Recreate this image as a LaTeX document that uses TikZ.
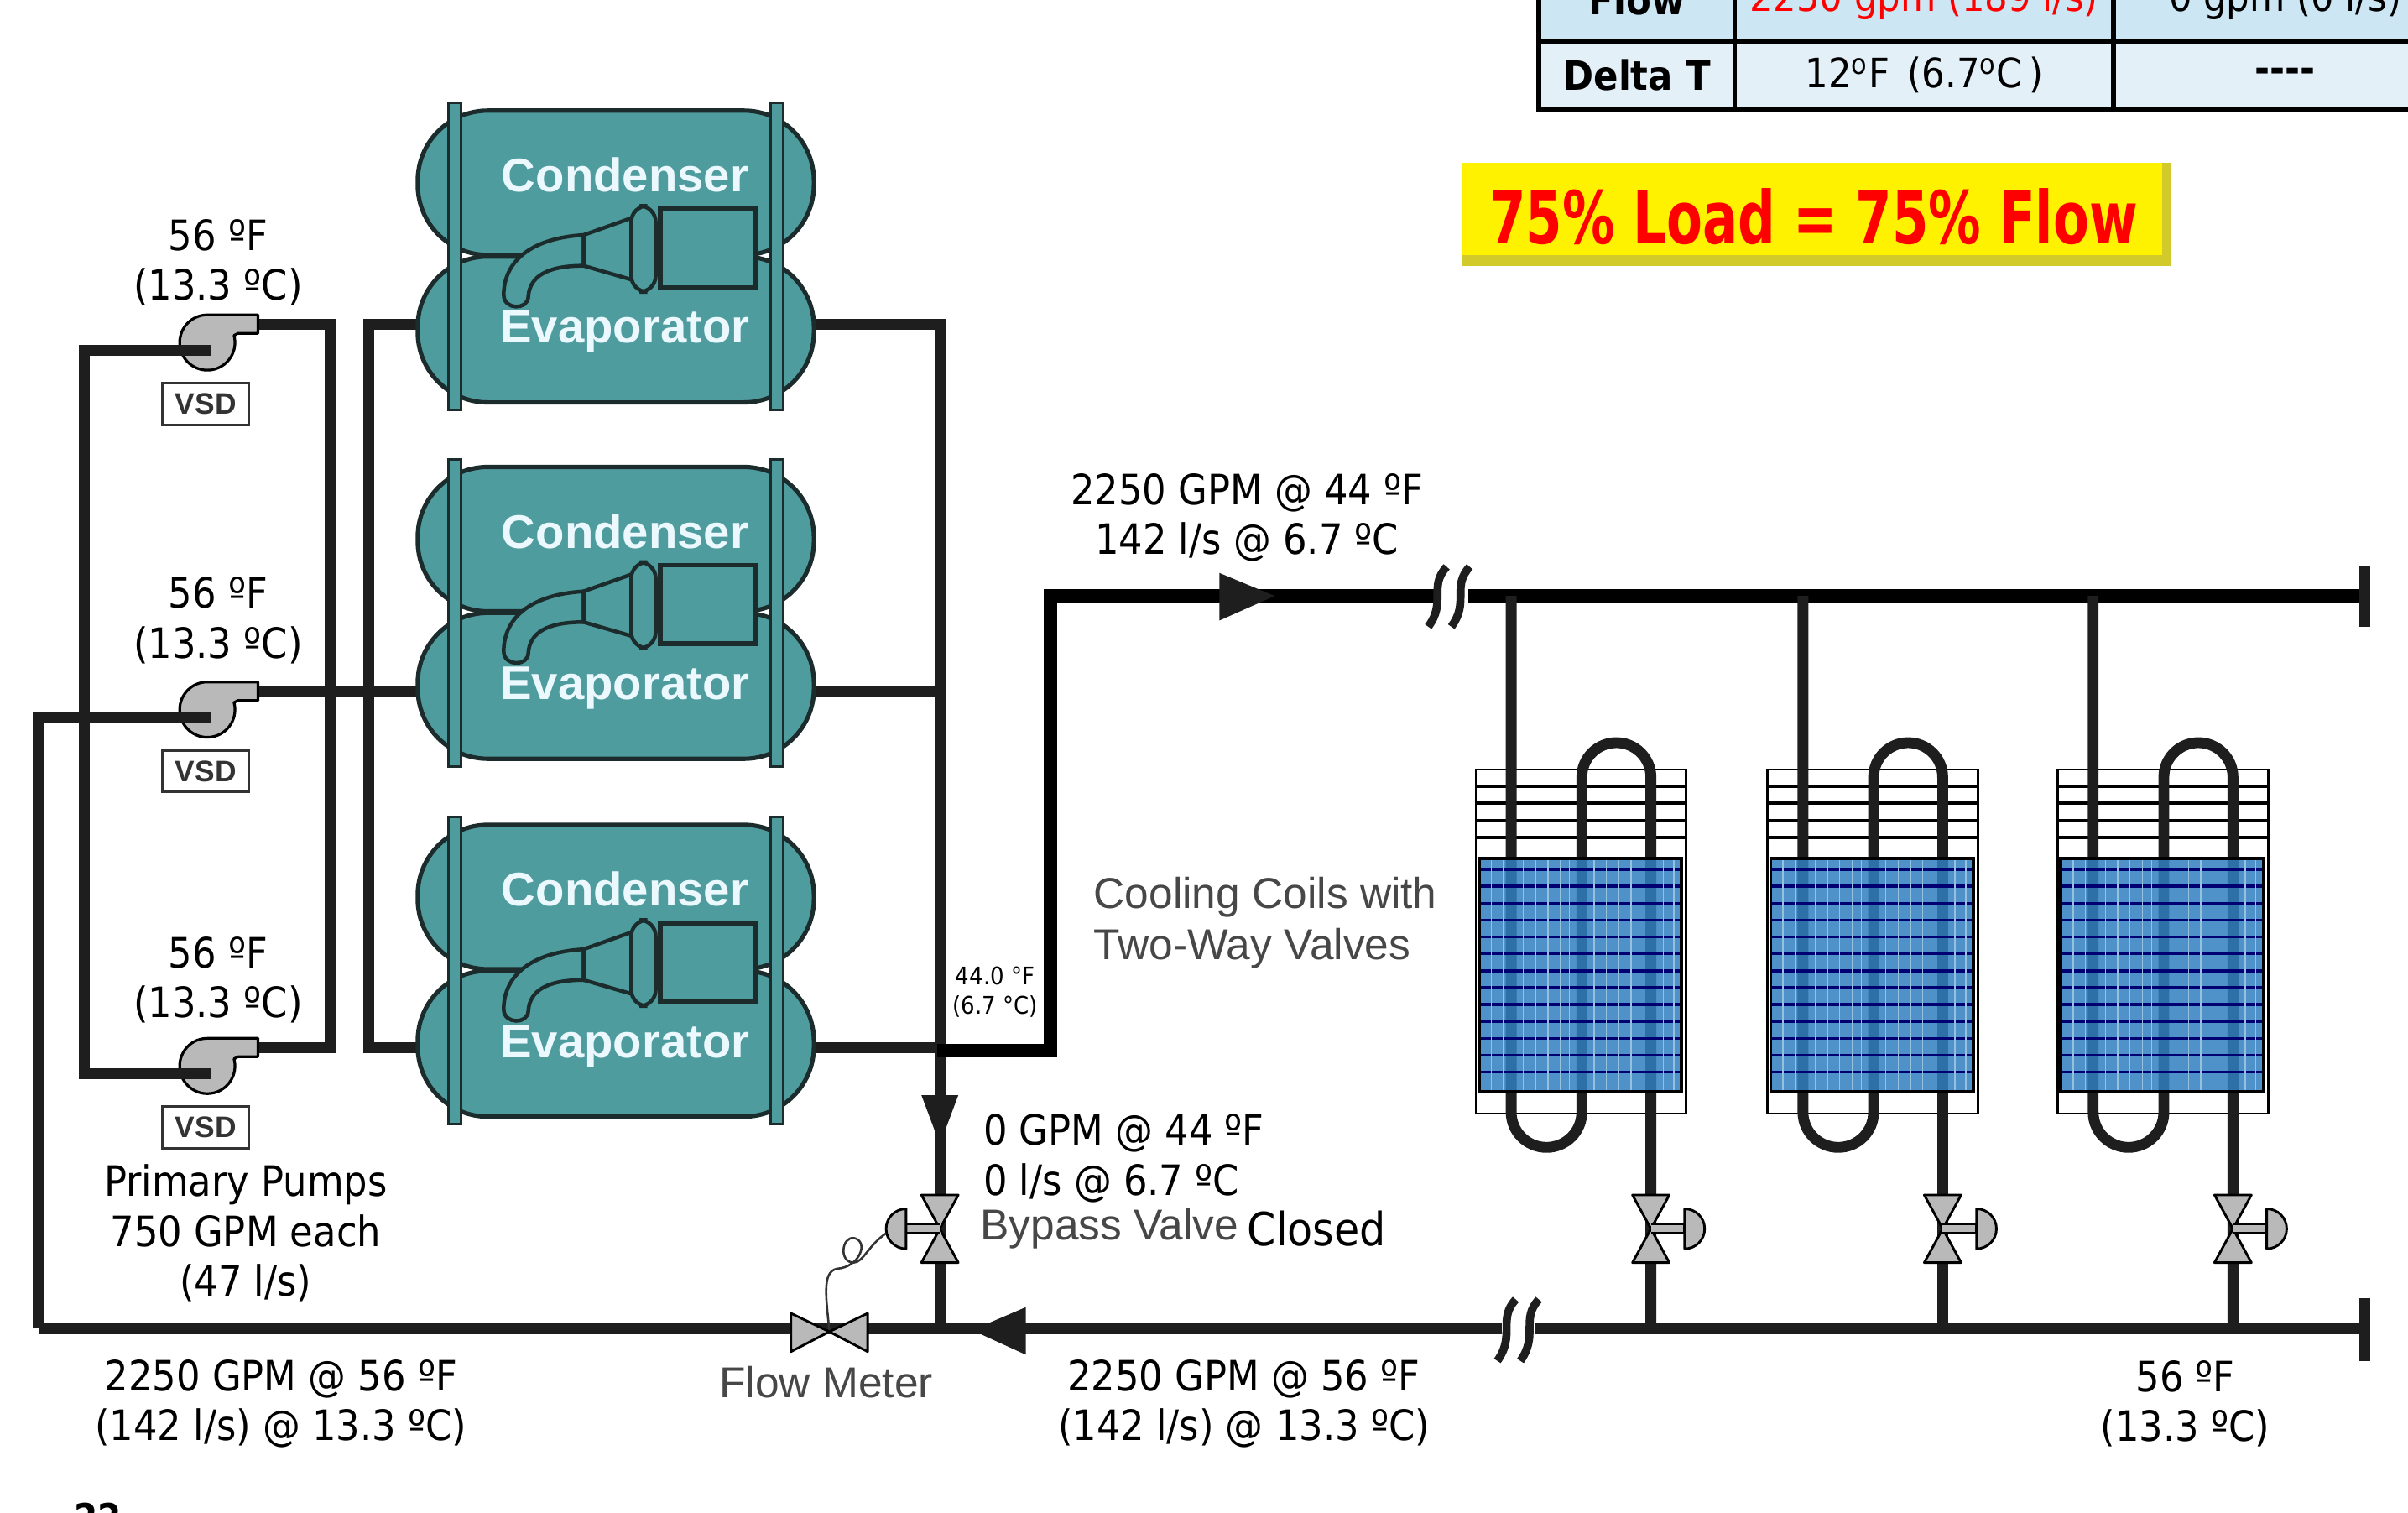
\documentclass[tikz,border=0pt]{standalone}
\usepackage{fontspec}
\setmainfont{DejaVu Sans}
\newfontfamily\cnd{DejaVu Sans Condensed}
\newfontfamily\ari{Liberation Sans}
\usetikzlibrary{calc}
\definecolor{tealc}{HTML}{4E9C9E}
\definecolor{dk}{HTML}{1C2C2C}
\definecolor{pipec}{HTML}{1E1E1E}
\definecolor{grayv}{HTML}{B9B9B9}
\definecolor{coilb}{HTML}{2F7FC0}
\definecolor{rowa}{HTML}{CDE6F3}
\definecolor{rowb}{HTML}{E4F0F8}
\begin{document}
\begin{tikzpicture}[x=0.02cm,y=-0.02cm,
  pipe/.style={line width=4pt,draw=pipec},
  lbl/.style={font=\cnd\fontsize{15.5}{18.5}\selectfont,align=center,inner sep=0pt},
  lbll/.style={font=\cnd\fontsize{15.5}{18.5}\selectfont,align=left,inner sep=0pt,anchor=west},
  glbl/.style={font=\ari\fontsize{16}{19}\selectfont,text=black!72,inner sep=0pt},
  shell/.style={fill=tealc,draw=dk,line width=1.6pt,rounded corners=26},
  strap/.style={fill=tealc,draw=dk,line width=1pt},
  wtxt/.style={font=\ari\bfseries\fontsize{17.5}{20}\selectfont,text=white!92!cyan,inner sep=0pt},
  valve/.style={fill=grayv,draw=black,line width=0.9pt,line join=round},
  arr/.style={fill=pipec,draw=none}]
\useasboundingbox (0,0) rectangle (1568,985);

% ---------------- table ----------------
\fill[rowa] (1002,-30) rectangle (1580,27);
\fill[rowb] (1002,27) rectangle (1580,71);
\draw[line width=1.8pt] (1002,-30) -- (1002,71) -- (1580,71);
\draw[line width=1.8pt] (1002,27) -- (1580,27);
\draw[line width=1.2pt] (1130,-30) -- (1130,71);
\draw[line width=1.8pt] (1376,-30) -- (1376,71);
\node[font=\cnd\bfseries\fontsize{15}{18}\selectfont] (tflow) at (1066,0) {Flow};
\node[font=\cnd\fontsize{15}{18}\selectfont,text=red] (tfa) at (1253,0) {2250 gpm (189 l/s)};
\node[font=\cnd\fontsize{15}{18}\selectfont] (tfb) at (1488,0) {0 gpm (0 l/s)};
\node[font=\cnd\bfseries\fontsize{15}{18}\selectfont] (tdt) at (1066,49) {Delta T};
\node[font=\cnd\fontsize{15}{18}\selectfont] (tda) at (1253,49) {12\textsuperscript{o}F \,(6.7\textsuperscript{o}C\,)};
\node[font=\cnd\bfseries\fontsize{15}{18}\selectfont] (tdb) at (1488,49) {----};

% ---------------- yellow banner ----------------
\fill[yellow!80!black] (952,106) rectangle (1414,173);
\fill[yellow] (952,106) rectangle (1408,166);
\node[font=\cnd\bfseries\fontsize{27}{32}\selectfont,text=red,inner sep=0pt,xscale=0.8] (banner) at (1181,141) {75\% Load = 75\% Flow};

% ---------------- pipes (left side) ----------------
\coordinate (retL) at (25,865);
\coordinate (retR) at (1540,865);
\draw[pipe] (retL) -- (25,467) -- (135,467);
\draw[pipe] (135,228) -- (55,228) -- (55,699) -- (135,699);
\draw[pipe] (160,211) -- (215,211) -- (215,682) -- (160,682);
\draw[pipe] (160,450) -- (272,450);
\draw[pipe] (272,211) -- (240,211) -- (240,682) -- (272,682);
\draw[pipe] (530,211) -- (612,211) -- (612,865);
\draw[pipe] (530,450) -- (612,450);
\draw[pipe] (530,682) -- (612,682);
\draw[pipe] (retL) -- (retR);
\draw[pipe] (1540,845) -- (1540,886);
\draw[line width=5pt,black] (610,684) -- (684,684) -- (684,388) -- (1540,388);
\draw[pipe] (1540,369) -- (1540,408);

% ---------------- pumps ----------------
\foreach \c/\n in {228/1,467/2,699/3}{
  \draw[valve,line width=1pt] (168,\c-23) -- (135,\c-23) arc[start angle=-90,end angle=-375,radius=18] -- (155,\c-11) -- (168,\c-11) -- cycle;
  \draw[pipe] (112,\c) -- (137,\c);
  \node[draw=black!80,line width=1pt,fill=white,minimum width=56*0.02cm,minimum height=27*0.02cm,inner sep=0pt,
        font=\ari\bfseries\fontsize{11}{12}\selectfont,text=black!80] (vsd\n) at (134,\c+35) {VSD};
}

% ---------------- chillers ----------------
\foreach \T/\n in {70/1,302/2,535/3}{
  \draw[shell] (272,\T+2) rectangle (530,\T+96);
  \draw[shell] (272,\T+97) rectangle (530,\T+192);
  \draw[strap] (292,\T-3) rectangle (300,\T+197);
  \draw[strap] (502,\T-3) rectangle (510,\T+197);
  \draw[fill=tealc,draw=dk,line width=1.4pt] (380,\T+83) .. controls (346,\T+85) and (328,\T+100) .. (328,\T+122)
     .. controls (328,\T+132) and (344,\T+132) .. (344,\T+123) .. controls (345,\T+110) and (356,\T+103) .. (380,\T+103) -- cycle;
  \draw[fill=tealc,draw=dk,line width=1.4pt] (380,\T+83) -- (411,\T+72) -- (411,\T+112) -- (380,\T+103) -- cycle;
  \draw[fill=tealc,draw=dk,line width=1.4pt,rounded corners=6] (411,\T+64) rectangle (427,\T+120);
  \draw[dk,line width=1.4pt] (427,\T+86) -- (430,\T+86) (427,\T+98) -- (430,\T+98);
  \draw[fill=tealc,draw=dk,line width=1.6pt] (430,\T+66) rectangle (492,\T+117);
  \node[wtxt] (cond\n) at (407,\T+44) {Condenser};
  \node[wtxt] (evap\n) at (407,\T+146) {Evaporator};
}

% ---------------- bypass, valves, arrows ----------------
\fill[arr] (600,713) -- (624,713) -- (612,745) -- cycle;
\draw[valve] (600,778) -- (624,778) -- (612,800) -- cycle;
\draw[valve] (600,822) -- (624,822) -- (612,800) -- cycle;
\draw[valve] (612,797) -- (590,797) -- (590,803) -- (612,803);
\draw[valve] (590,787) arc[start angle=-90,end angle=-270,radius=13] -- cycle;
\draw[black!80,line width=0.8pt] (577,803) .. controls (566,810) and (562,822) .. (556,822)
   .. controls (546,822) and (548,805) .. (556,806) .. controls (566,808) and (560,825) .. (545,826)
   .. controls (535,828) and (538,845) .. (540,866);
\draw[valve] (515,855) -- (515,880) -- (540,867) -- cycle;
\draw[valve] (565,855) -- (565,880) -- (540,867) -- cycle;
\fill[arr] (794,373) -- (794,404) -- (830,388) -- cycle;
\fill[arr] (668,851) -- (668,882) -- (633,866) -- cycle;

% break marks
\fill[white] (934,378) rectangle (956,398);
\draw[pipec,line width=3pt] (942,369) .. controls (930,382) and (942,392) .. (930,408);
\draw[pipec,line width=3pt] (957,369) .. controls (945,382) and (957,392) .. (945,408);
\fill[white] (978,855) rectangle (1000,875);
\draw[pipec,line width=3pt] (987,846) .. controls (975,859) and (987,869) .. (975,886);
\draw[pipec,line width=3pt] (1002,846) .. controls (990,859) and (1002,869) .. (990,886);

% ---------------- cooling coils ----------------
\foreach \o/\n in {0/1,190/2,379/3}{
  \begin{scope}[xshift=\o*0.02cm]
    \draw[black,line width=0.8pt] (961,501) rectangle (1098,725);
    \foreach \yy in {512,523,534,545}{\draw[black,line width=1.2pt] (961,\yy) -- (1098,\yy);}
    \draw[pipe] (984,388) -- (984,724) arc[start angle=180,end angle=0,radius=23] -- (1030,506) arc[start angle=180,end angle=360,radius=22.5] -- (1075,865);
    \fill[coilb,opacity=0.85] (963,559) rectangle (1095,711);
    \foreach \yy in {566,577,588,599,610,621,632,643,654,665,676,687,698}{\draw[black!55!blue,line width=1.1pt] (963,\yy) -- (1095,\yy);}
    \foreach \xx in {971,979,992,1000,1008,1016,1022,1038,1046,1054,1062,1083,1090}{\draw[white!50!coilb,line width=0.4pt] (\xx,559) -- (\xx,711);}
    \draw[black,line width=1.2pt] (963,559) rectangle (1095,711);
    \draw[valve] (1063,778) -- (1087,778) -- (1075,800) -- cycle;
    \draw[valve] (1063,822) -- (1087,822) -- (1075,800) -- cycle;
    \draw[valve] (1075,797) -- (1097,797) -- (1097,803) -- (1075,803);
    \draw[valve] (1097,787) arc[start angle=-90,end angle=90,radius=13] -- cycle;
  \end{scope}
}

% ---------------- labels ----------------
\node[lbl] (t1) at (142,171) {56 ºF\\(13.3 ºC)};
\node[lbl] (t2) at (142,404) {56 ºF\\(13.3 ºC)};
\node[lbl] (t3) at (142,638) {56 ºF\\(13.3 ºC)};
\node[lbl] (pp) at (160,803) {Primary Pumps\\750 GPM each\\(47 l/s)};
\node[lbl] (rl) at (183,914) {2250 GPM @ 56 ºF\\(142 l/s) @ 13.3 ºC)};
\node[lbl] (rr) at (810,914) {2250 GPM @ 56 ºF\\(142 l/s) @ 13.3 ºC)};
\node[lbl] (rt) at (1423,914) {56 ºF\\(13.3 ºC)};
\node[lbl] (sup) at (812,337) {2250 GPM @ 44 ºF\\142 l/s @ 6.7 ºC};
\node[lbll] (byp) at (640,754) {0 GPM @ 44 ºF\\0 l/s @ 6.7 ºC};
\node[glbl,anchor=west] (bv) at (638,800) {Bypass Valve};
\node[font=\cnd\fontsize{17}{19}\selectfont,anchor=west,inner sep=0pt] (cl) at (bv.east) {\,Closed};
\node[font=\cnd\fontsize{9}{11}\selectfont,align=center,inner sep=0pt] (t44) at (648,646) {44.0 °F\\(6.7 °C)};
\node[glbl,align=left] (cc) at (824,601) {Cooling Coils with\\Two-Way Valves};
\node[glbl] (fm) at (538,900) {Flow Meter};
\node[font=\cnd\bfseries\fontsize{14}{16}\selectfont,inner sep=0pt,anchor=north west] (pg) at (48,978) {22};
\end{tikzpicture}
\end{document}
